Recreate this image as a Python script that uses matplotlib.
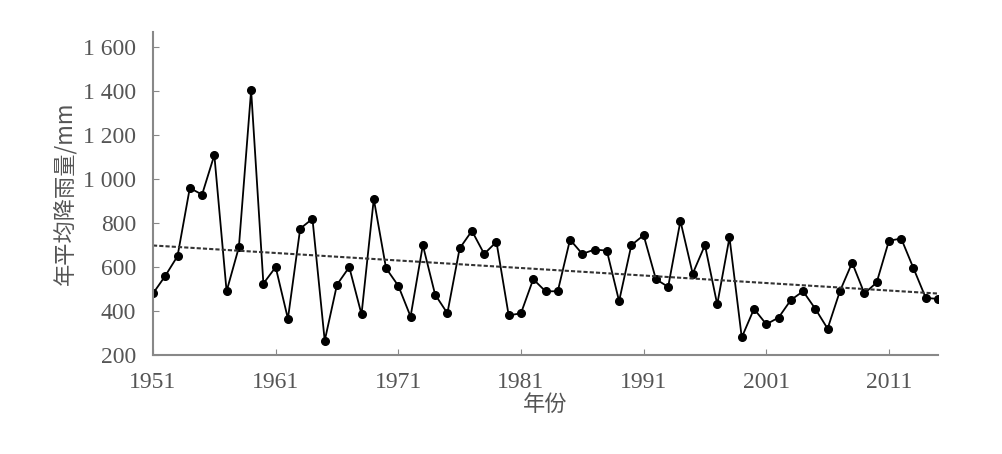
import matplotlib
matplotlib.use("Agg")
import matplotlib.pyplot as plt
import numpy as np

years = list(range(1951, 2016))
rain = [480, 560, 650, 960, 930, 1110, 490, 690, 1405, 525,
        600, 365, 775, 820, 265, 520, 600, 385, 910, 595,
        515, 375, 700, 475, 390, 685, 765, 660, 715, 380,
        390, 545, 490, 490, 725, 660, 680, 675, 445, 700,
        745, 545, 510, 810, 570, 700, 430, 735, 280, 410,
        340, 370, 450, 490, 410, 320, 490, 620, 480, 530,
        720, 730, 595, 460, 455]
xticks = [1951, 1961, 1971, 1981, 1991, 2001, 2011]
yticks = [200, 400, 600, 800, 1000, 1200, 1400, 1600]
ylabels = ["200", "400", "600", "800", "1 000", "1 200", "1 400", "1 600"]

fig = plt.figure(figsize=(10.02, 4.54), dpi=100)
ax = fig.add_axes([153/1002, 1-355/454, (938-153)/1002, (355-32)/454])
gray = "#555555"
x = np.array(years); y = np.array(rain)
ax.plot(x, y, color="black", lw=1.3, marker="o", ms=5.5)
c = np.polyfit(x, y, 1)
ax.plot([1951, 2015], np.polyval(c, [1951, 2015]), color="#333333", lw=1.5, ls=(0, (2, 1)))
ax.set_xlim(1951, 2015)
ax.set_ylim(200, 1670)
ax.set_xticks(xticks)
ax.set_yticks(yticks)
ax.set_yticklabels(ylabels)
for s in ["top", "right"]:
    ax.spines[s].set_visible(False)
for s in ["left", "bottom"]:
    ax.spines[s].set_color("#888888"); ax.spines[s].set_linewidth(1.5)
ax.tick_params(direction="in", length=4, colors="#888888", labelcolor=gray, labelsize=17)
ax.tick_params(axis="x", pad=12)
ax.tick_params(axis="y", pad=12)
for t in ax.get_xticklabels() + ax.get_yticklabels():
    t.set_family("Liberation Serif")
ax.set_xlabel("年份", family=["Noto Sans CJK SC"], fontsize=16, color=gray, labelpad=0)
ax.set_ylabel("年平均降雨量/mm", family=["Noto Sans CJK SC"], fontsize=16, color=gray, labelpad=4)
fig.savefig("out.png", dpi=100, facecolor="white")
